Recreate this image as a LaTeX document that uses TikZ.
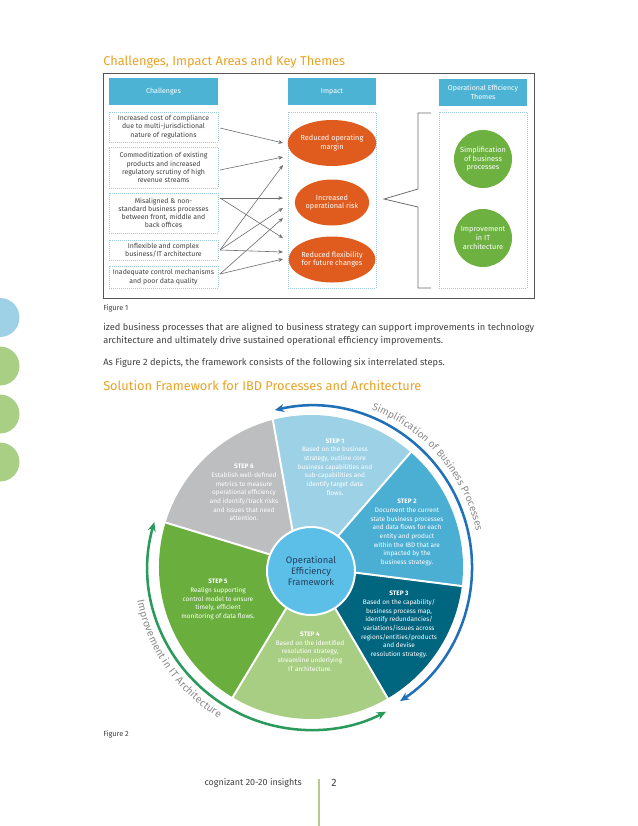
\documentclass[tikz,border=0pt]{standalone}
\usepackage{fontspec}
\setmainfont{Fira Sans}
\usetikzlibrary{arrows.meta,decorations.text,shapes.geometric,calc}
\definecolor{titleorange}{HTML}{E9A326}
\definecolor{headerblue}{HTML}{4DB3D4}
\definecolor{dotblue}{HTML}{9BC9DF}
\definecolor{ovalorange}{HTML}{E05B1E}
\definecolor{circgreen}{HTML}{6DB240}
\definecolor{sA}{HTML}{9DD1E6}
\definecolor{sB}{HTML}{4BAED3}
\definecolor{sC}{HTML}{00657F}
\definecolor{sD}{HTML}{A8CE83}
\definecolor{sE}{HTML}{6AAE3D}
\definecolor{sF}{HTML}{BDBEC0}
\definecolor{ctrblue}{HTML}{5CBFE8}
\definecolor{ctrtext}{HTML}{23415F}
\definecolor{arcblue}{HTML}{2070B8}
\definecolor{arcgreen}{HTML}{2A9A5C}
\definecolor{arclabel}{HTML}{8C8C8C}
\definecolor{bodytext}{HTML}{404040}
\definecolor{framegray}{HTML}{555555}
\definecolor{arrgray}{HTML}{6E6E6E}
\definecolor{leftblue}{HTML}{9ED1E6}
\definecolor{leftgreen}{HTML}{A9CF85}
\definecolor{footgreen}{HTML}{B5CC8E}
\newcommand\fsz[2]{\fontsize{#1}{#2}\selectfont}
\begin{document}
\begin{tikzpicture}[x=0.75pt,y=-0.75pt,
  hdr/.style={fill=headerblue,text=white,font=\fsz{5.3}{6.5},align=center,inner sep=0pt,minimum height=20.25pt},
  chbox/.style={draw=dotblue,densely dotted,line width=0.5pt,inner sep=0pt,minimum width=81.75pt,font=\fsz{5.2}{6.1},text=bodytext,align=center},
  colbox/.style={draw=dotblue,densely dotted,line width=0.5pt,inner sep=0pt,minimum width=66pt,minimum height=132pt},
  oval/.style={ellipse,fill=ovalorange,text=white,inner sep=0pt,minimum width=53.25pt,minimum height=34.5pt,font=\fsz{5.5}{6.4},align=center},
  theme/.style={circle,fill=circgreen,text=white,inner sep=0pt,minimum size=43.5pt,font=\fsz{5.5}{6.4},align=center},
  conn/.style={draw=arrgray,line width=0.45pt,-{Stealth[length=3.5pt,width=2.8pt]}},
  steptxt/.style={text=white,font=\fsz{4.85}{6.5},align=center,inner sep=0pt},
  slice/.style={draw=white,line width=1.5pt,line join=round},
  body/.style={text=bodytext,font=\fsz{6.95}{8},anchor=west,inner sep=0pt},
  title/.style={text=titleorange,font=\fsz{9.6}{11},anchor=west,inner sep=0pt}
]
\clip (0,0) rectangle (638,826);
\fill[white] (0,0) rectangle (638,826);

% left decorative circles
\fill[leftblue] (0,317.5) circle[radius=19.5];
\fill[leftgreen] (0,366) circle[radius=19.5];
\fill[leftgreen] (0,414) circle[radius=19.5];
\fill[leftgreen] (0,462) circle[radius=19.5];

% ---------- Figure 1 ----------
\node[title] (t1) at (103,62) {Challenges, Impact Areas and Key Themes};
\draw[framegray,line width=0.6pt] (103,73) rectangle (534,298);

\node[hdr,minimum width=81.75pt] (h1) at (163.5,91.5) {Challenges};
\node[hdr,minimum width=66pt] (h2) at (332,91.5) {Impact};
\node[hdr,minimum width=66pt] (h3) at (483,92.5) {Operational Efficiency\\Themes};

\node[chbox,minimum height=22.5pt] (c1) at (163.5,127) {Increased cost of compliance\\due to multi-jurisdictional\\nature of regulations};
\node[chbox,minimum height=30.75pt] (c2) at (163.5,167.5) {Commoditization of existing\\products and increased\\regulatory scrutiny of high\\revenue streams};
\node[chbox,minimum height=30pt] (c3) at (163.5,213) {Misaligned \& non-\\standard business processes\\between front, middle and\\back offices};
\node[chbox,minimum height=15pt] (c4) at (163.5,250) {Inflexible and complex\\business/IT architecture};
\node[chbox,minimum height=16.5pt] (c5) at (163.5,277) {Inadequate control mechanisms\\and poor data quality};

\node[colbox] (ib) at (332,200) {};
\node[colbox] (tb) at (483,200) {};

\node[oval] (o1) at (332,143) {Reduced operating\\margin};
\node[oval] (o2) at (332,202.5) {Increased\\operational risk};
\node[oval] (o3) at (332,259.5) {Reduced flexibility\\for future changes};

\node[theme] (g1) at (483,159) {Simplification\\of business\\processes};
\node[theme] (g2) at (483,238) {Improvement\\in IT\\architecture};

\draw[arrgray,line width=0.6pt] (431,113) -- (418,113) -- (418,189) -- (384,199) -- (418,207) -- (418,288) -- (431,288);

\coordinate (a1) at (283,143);
\coordinate (a2) at (283,157);
\coordinate (a3) at (283,165);
\coordinate (b1) at (283,198);
\coordinate (b2) at (283,208);
\coordinate (b3) at (283,218);
\coordinate (d1) at (283,238);
\coordinate (d2) at (283,252);
\coordinate (d3) at (283,259);
\coordinate (s1) at (220,128);
\coordinate (s2) at (220,170);
\coordinate (s3) at (220,198);
\coordinate (s4) at (220,250);
\coordinate (s5) at (220,274);
\draw[conn] (s1) -- (a1);
\draw[conn] (s2) -- (a2);
\draw[conn] (s4) -- (a3);
\draw[conn] (s3) -- (b1);
\draw[conn] (s4) -- (b2);
\draw[conn] (s5) -- (b3);
\draw[conn] (s3) -- (d1);
\draw[conn] (s4) -- (d2);
\draw[conn] (s5) -- (d3);

\node[text=bodytext,font=\fsz{5.5}{6.5},anchor=west,inner sep=0pt] (f1) at (103,308) {Figure 1};

\node[body] (p1) at (103,328) {ized business processes that are aligned to business strategy can support improvements in technology};
\node[body] (p2) at (103,341) {architecture and ultimately drive sustained operational efficiency improvements.};
\node[body] (p3) at (103,363) {As Figure 2 depicts, the framework consists of the following six interrelated steps.};

\node[title] (t2) at (103,386) {Solution Framework for IBD Processes and Architecture};

% ---------- Figure 2 wheel ----------
\begin{scope}[shift={(311,567)}]
\begin{scope}[y=0.75pt]
\fill[sA] (-12,0) -- (104.5:152) arc[start angle=104.5,end angle=49,radius=152] -- (0,0) -- cycle;
\fill[sB] (0,0) -- (49:152) arc[start angle=49,end angle=-7.2,radius=152] -- cycle;
\fill[sC] (0,0) -- (-7.2:152) arc[start angle=-7.2,end angle=-59.7,radius=152] -- cycle;
\fill[sD] (0,0) -- (-59.7:152) arc[start angle=-59.7,end angle=-121,radius=152] -- cycle;
\fill[sE] (0,0) -- (-121:152) arc[start angle=-121,end angle=-197,radius=152] -- cycle;
\fill[sF] (0,0) -- (163:152) arc[start angle=163,end angle=104.5,radius=152] -- (-12,0) -- cycle;
\draw[slice] (-12,0) -- (104.5:153);
\draw[slice] (0,0) -- (49:153);
\draw[slice] (0,0) -- (-7.2:153);
\draw[slice] (0,0) -- (-59.7:153);
\draw[slice] (0,0) -- (-121:153);
\draw[slice] (0,0) -- (163:153);

\draw[arcblue,line width=1.9pt,{Stealth[length=7pt,width=6pt]}-{Stealth[length=7pt,width=6pt]}] (103:161) arc[start angle=103,end angle=-56.4,radius=161];
\draw[arcgreen,line width=1.9pt,{Stealth[length=7pt,width=6pt]}-{Stealth[length=7pt,width=6pt]}] (164:163) arc[start angle=164,end angle=297.4,radius=163];

\path[decorate,decoration={text along path,text align=left,text={|\fsz{7.6}{8.5}\color{arclabel}|Simplification of Business Processes}}] (69:169) arc[start angle=69,end angle=0,radius=169];
\path[decorate,decoration={text along path,text align=left,text={|\fsz{7.8}{8.5}\color{arclabel}|Improvement in IT Architecture}}] (191:177) arc[start angle=191,end angle=265,radius=177];
\end{scope}
\end{scope}

\node[circle,fill=ctrblue,draw=white,line width=1.5pt,minimum size=66pt,inner sep=0pt,text=ctrtext,font=\fsz{7}{8.4},align=center] (ctr) at (311,571) {Operational\\Efficiency\\Framework};

\node[steptxt] (st1) at (335,467) {\textbf{STEP 1}\\Based on the business\\strategy, outline core\\business capabilities and\\sub-capabilities and\\identify target data\\flows.};
\node[steptxt] (st6) at (244,492.5) {\textbf{STEP 6}\\Establish well-defined\\metrics to measure\\operational efficiency\\and  identify/track risks\\and issues that need\\attention.};
\node[steptxt] (st2) at (407,532.5) {\textbf{STEP 2}\\Document the current\\state business processes\\and data flows for each\\entity and product\\within the IBD that are\\impacted by the\\business strategy.};
\node[steptxt] (st3) at (399,624.5) {\textbf{STEP 3}\\Based on the capability/\\business process map,\\identify redundancies/\\variations/issues across\\regions/entities/products\\and devise\\resolution strategy.};
\node[steptxt] (st4) at (310,651.5) {\textbf{STEP 4}\\Based on the identified\\resolution strategy,\\streamline underlying\\IT architecture.};
\node[steptxt] (st5) at (218,599.5) {\textbf{STEP 5}\\Realign supporting\\control model to ensure\\timely, efficient\\monitoring of data flows.};

\node[text=bodytext,font=\fsz{5.5}{6.5},anchor=west,inner sep=0pt] (f2) at (103,734) {Figure 2};

% footer
\node[text=bodytext,font=\fsz{6.7}{8},anchor=east,inner sep=0pt] (ft) at (302,783) {cognizant 20-20 insights};
\draw[footgreen,line width=0.8pt] (319,779) -- (319,826);
\node[text=bodytext,font=\fsz{8}{9},anchor=west,inner sep=0pt] (pg) at (331,783) {2};
\end{tikzpicture}
\end{document}
